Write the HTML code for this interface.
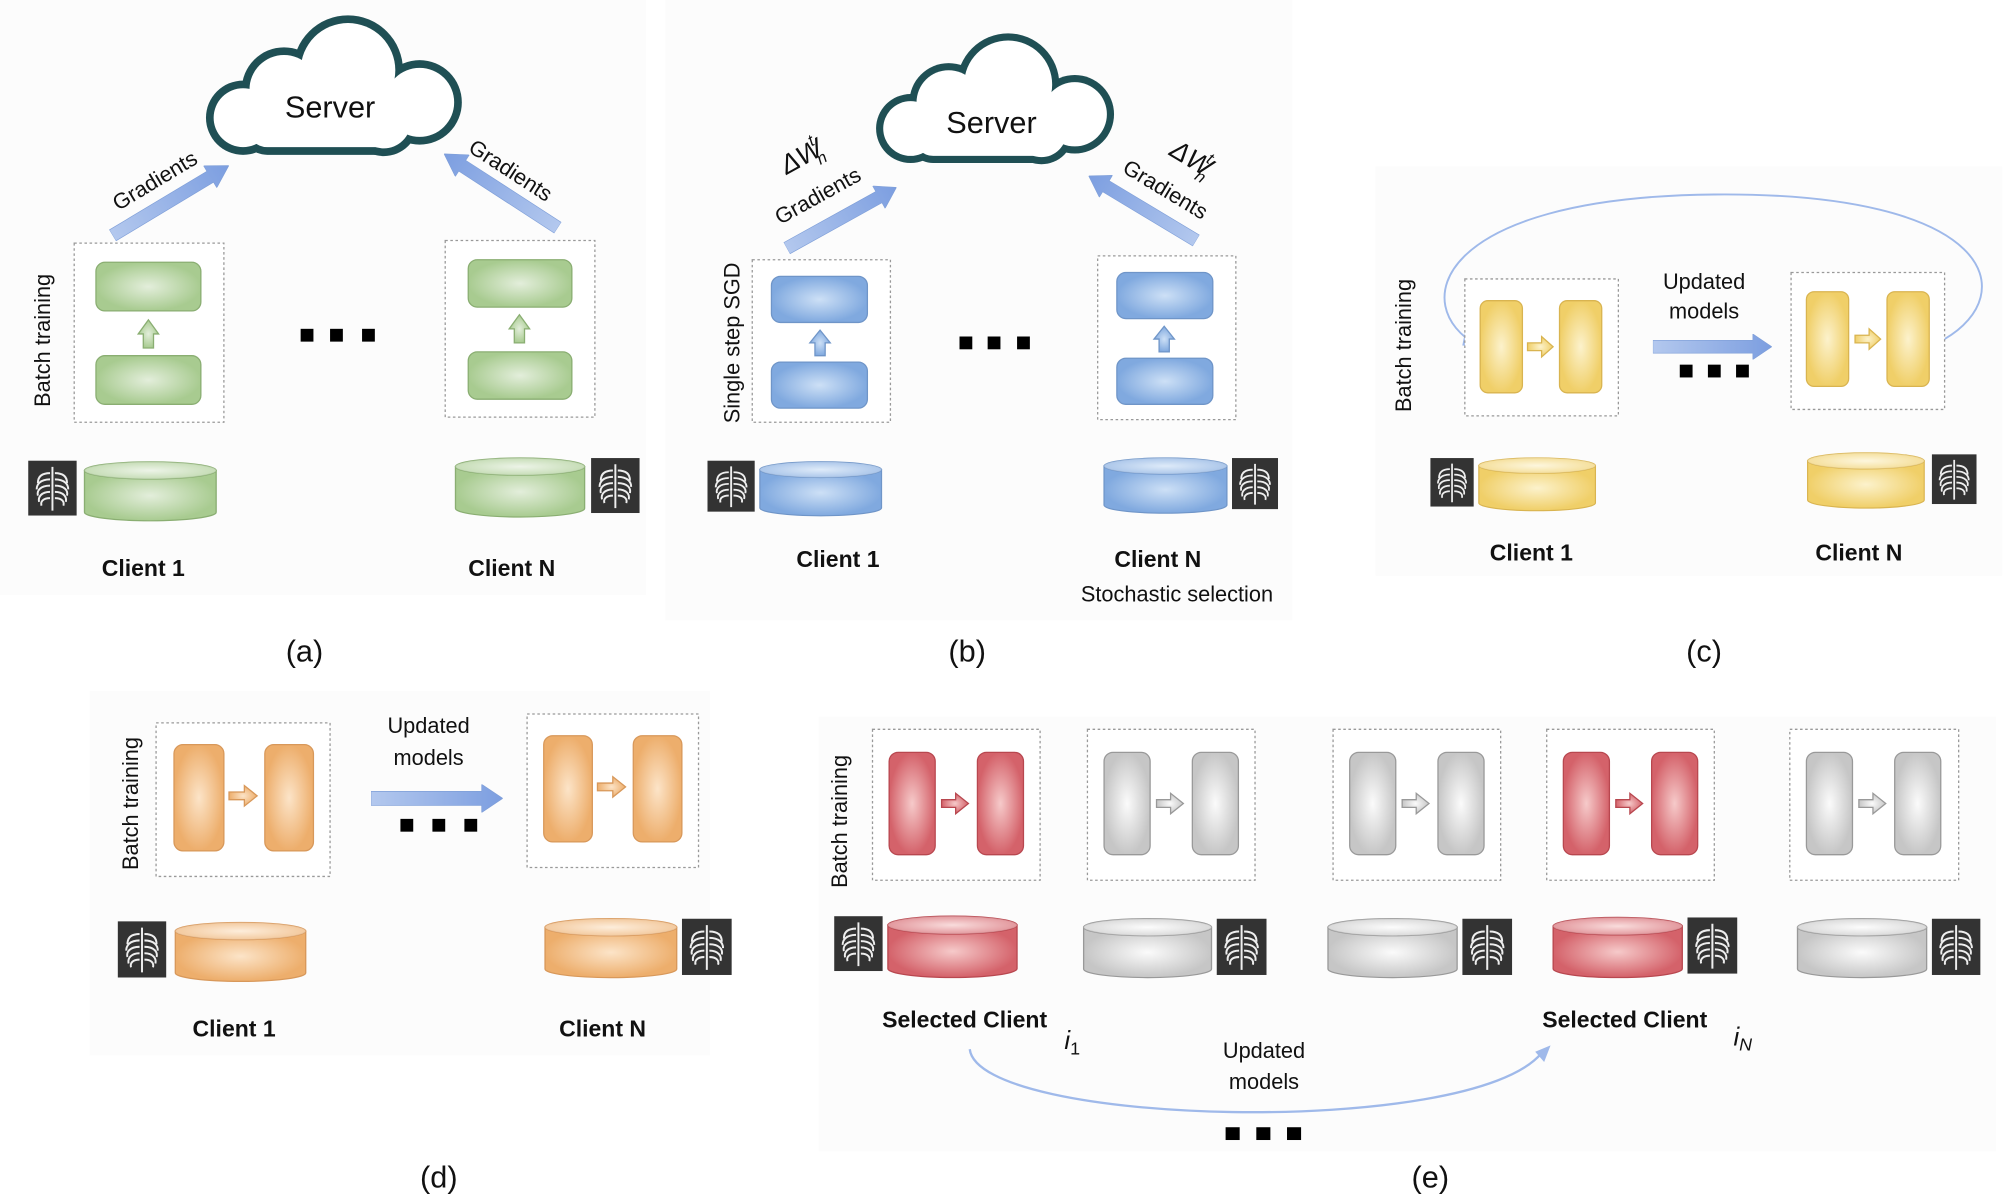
<!DOCTYPE html>
<html><head><meta charset="utf-8"><style>
html,body{margin:0;padding:0;background:#fff;}
svg{display:block;}
text{font-family:"Liberation Sans",sans-serif;fill:#111;}
.b{font-weight:bold;font-size:18px;}
.l{font-size:24px;}
.m{font-size:17px;}
.d{fill:#fff;stroke:#999;stroke-width:1;stroke-dasharray:2 2;}
</style></head><body>
<svg width="2006" height="1204" viewBox="0 0 1568 941" preserveAspectRatio="none" xmlns="http://www.w3.org/2000/svg">
<defs>
<radialGradient id="gG"><stop offset="0" stop-color="#e3eedb"/><stop offset="1" stop-color="#a8cb90"/></radialGradient>
<radialGradient id="gB"><stop offset="0" stop-color="#cde0f6"/><stop offset="1" stop-color="#80a9df"/></radialGradient>
<radialGradient id="gY"><stop offset="0" stop-color="#fcf2cc"/><stop offset="1" stop-color="#f0cf68"/></radialGradient>
<radialGradient id="gO"><stop offset="0" stop-color="#fce4c8"/><stop offset="1" stop-color="#edae6c"/></radialGradient>
<radialGradient id="gR"><stop offset="0" stop-color="#f6caca"/><stop offset="1" stop-color="#d4626a"/></radialGradient>
<radialGradient id="gW"><stop offset="0" stop-color="#fbfbfb"/><stop offset="1" stop-color="#c6c6c6"/></radialGradient>
<linearGradient id="ar" x1="0" x2="1" y1="0" y2="0"><stop offset="0" stop-color="#b3c8ee"/><stop offset="1" stop-color="#7c9ee0"/></linearGradient>
<symbol id="cyl" viewBox="0 0 100 50" preserveAspectRatio="none" overflow="visible">
<path d="M1,8 V42 A49,7 0 0 0 99,42 V8 Z"/>
<ellipse cx="50" cy="8" rx="49" ry="7"/>
<ellipse cx="50" cy="8" rx="49" ry="7" fill="#fff" fill-opacity="0.35" stroke="none"/>
</symbol>
<symbol id="xr" viewBox="0 0 40 44" preserveAspectRatio="none">
<rect width="40" height="44" fill="#333"/>
<g fill="none" stroke="#eee" stroke-width="1.6">
<line x1="20" y1="5" x2="20" y2="40"/>
<path d="M18,10 C10,10 8,14 8,18 M22,10 C30,10 32,14 32,18"/>
<path d="M18,15 C10,15 7,19 7,23 M22,15 C30,15 33,19 33,23"/>
<path d="M18,20 C10,20 7,24 8,28 M22,20 C30,20 33,24 32,28"/>
<path d="M18,25 C11,25 8,29 9,33 M22,25 C29,25 32,29 31,33"/>
<path d="M18,30 C12,30 10,33 11,36 M22,30 C28,30 30,33 29,36"/>
</g></symbol>
<symbol id="big" viewBox="0 0 100 20" preserveAspectRatio="none">
<polygon points="0,5 84,5 84,0 100,10 84,20 84,15 0,15" fill="url(#ar)" stroke="#7f9fd8" stroke-width="0.5"/>
</symbol>
<g id="cloud">
<g fill="#1f4f54">
<circle cx="190" cy="92" r="29"/><circle cx="222" cy="70" r="33"/><circle cx="272" cy="55" r="43"/><circle cx="328" cy="80" r="33"/><circle cx="300" cy="95" r="27"/><rect x="187" y="72" width="136" height="49" rx="22"/>
</g>
<g fill="#fff">
<circle cx="190" cy="92" r="23"/><circle cx="222" cy="70" r="27"/><circle cx="272" cy="55" r="37"/><circle cx="328" cy="80" r="27"/><circle cx="300" cy="95" r="21"/><rect x="193" y="78" width="124" height="37" rx="16"/>
</g></g>
</defs>
<rect x="0" y="0" width="505" height="465" fill="#fcfcfc"/>
<rect x="520" y="0" width="490" height="485" fill="#fcfcfc"/>
<rect x="1075" y="130" width="490" height="320" fill="#fcfcfc"/>
<rect x="70" y="540" width="485" height="285" fill="#fcfcfc"/>
<rect x="640" y="560" width="920" height="340" fill="#fcfcfc"/>

<!-- (a) -->
<use href="#cloud"/>
<text x="258" y="92" class="l" text-anchor="middle">Server</text>
<use href="#big" x="0" y="-10" width="106" height="20" transform="translate(88,184) rotate(-31)"/>
<use href="#big" x="0" y="-10" width="106" height="20" transform="translate(436,178) rotate(-147)"/>
<text class="m" font-size="19" text-anchor="middle" transform="translate(124,146) rotate(-31)">Gradients</text>
<text class="m" font-size="19" text-anchor="middle" transform="translate(396,138) rotate(33)">Gradients</text>
<rect class="d" x="58" y="190" width="117" height="140"/>
<rect x="75" y="205" width="82" height="38" rx="7" fill="url(#gG)" stroke="#8aae72"/>
<rect x="75" y="278" width="82" height="38" rx="7" fill="url(#gG)" stroke="#8aae72"/>
<polygon points="112,272 112,261 108,261 116,250 124,261 120,261 120,272" fill="url(#gG)" stroke="#8aae72"/>
<rect class="d" x="348" y="188" width="117" height="138"/>
<rect x="366" y="203" width="81" height="37" rx="7" fill="url(#gG)" stroke="#8aae72"/>
<rect x="366" y="275" width="81" height="37" rx="7" fill="url(#gG)" stroke="#8aae72"/>
<polygon points="402,268 402,257 398,257 406,246 414,257 410,257 410,268" fill="url(#gG)" stroke="#8aae72"/>
<text class="m" font-size="20" text-anchor="middle" transform="translate(39,266) rotate(-90)">Batch training</text>
<rect x="235" y="257" width="10" height="10" fill="#000"/><rect x="258" y="257" width="10" height="10" fill="#000"/><rect x="283" y="257" width="10" height="10" fill="#000"/>
<use href="#cyl" x="65" y="360" width="105" height="48" fill="url(#gG)" stroke="#8aae72"/>
<use href="#xr" x="22" y="360" width="38" height="43"/>
<use href="#cyl" x="355" y="357" width="103" height="48" fill="url(#gG)" stroke="#8aae72"/>
<use href="#xr" x="462" y="358" width="38" height="43"/>
<text x="112" y="450" class="b" text-anchor="middle">Client 1</text>
<text x="400" y="450" class="b" text-anchor="middle">Client N</text>
<text x="238" y="517" class="l" text-anchor="middle">(a)</text>

<!-- (b) -->
<use href="#cloud" transform="translate(775,80) scale(0.93) translate(-258,-70)"/>
<text x="775" y="104" class="l" text-anchor="middle">Server</text>
<use href="#big" x="0" y="-10" width="98" height="20" transform="translate(615,194) rotate(-29)"/>
<use href="#big" x="0" y="-10" width="98" height="20" transform="translate(935,188) rotate(-149)"/>
<text class="m" font-size="19" text-anchor="middle" transform="translate(642,158) rotate(-29)">Gradients</text>
<g transform="translate(627,130) rotate(-29)"><text font-family="Liberation Serif" font-size="21" font-style="italic" x="-14" y="0">ΔW</text><text font-family="Liberation Serif" font-size="13" font-style="italic" x="14" y="-10">t</text><text font-family="Liberation Serif" font-size="13" font-style="italic" x="13" y="6">n</text></g>
<text class="m" font-size="19" text-anchor="middle" transform="translate(908,153) rotate(31)">Gradients</text>
<g transform="translate(925,128) rotate(31)"><text font-family="Liberation Serif" font-size="21" font-style="italic" x="-14" y="0">ΔW</text><text font-family="Liberation Serif" font-size="13" font-style="italic" x="14" y="-10">t</text><text font-family="Liberation Serif" font-size="13" font-style="italic" x="13" y="6">n</text></g>
<rect class="d" x="588" y="203" width="108" height="127"/>
<rect x="603" y="216" width="75" height="36" rx="7" fill="url(#gB)" stroke="#6f95c8"/>
<rect x="603" y="283" width="75" height="36" rx="7" fill="url(#gB)" stroke="#6f95c8"/>
<polygon points="637,278 637,268 633,268 641,258 649,268 645,268 645,278" fill="url(#gB)" stroke="#6f95c8"/>
<rect class="d" x="858" y="200" width="108" height="128"/>
<rect x="873" y="213" width="75" height="36" rx="7" fill="url(#gB)" stroke="#6f95c8"/>
<rect x="873" y="280" width="75" height="36" rx="7" fill="url(#gB)" stroke="#6f95c8"/>
<polygon points="906,275 906,265 902,265 910,255 918,265 914,265 914,275" fill="url(#gB)" stroke="#6f95c8"/>
<text class="m" font-size="18" text-anchor="middle" transform="translate(578,268) rotate(-90)">Single step SGD</text>
<rect x="750" y="263" width="10" height="10" fill="#000"/><rect x="772" y="263" width="10" height="10" fill="#000"/><rect x="795" y="263" width="10" height="10" fill="#000"/>
<use href="#cyl" x="593" y="360" width="97" height="44" fill="url(#gB)" stroke="#6f95c8"/>
<use href="#xr" x="553" y="360" width="37" height="40"/>
<use href="#cyl" x="862" y="357" width="98" height="45" fill="url(#gB)" stroke="#6f95c8"/>
<use href="#xr" x="963" y="358" width="36" height="40"/>
<text x="655" y="443" class="b" text-anchor="middle">Client 1</text>
<text x="905" y="443" class="b" text-anchor="middle">Client N</text>
<text x="920" y="470" class="m" text-anchor="middle">Stochastic selection</text>
<text x="756" y="517" class="l" text-anchor="middle">(b)</text>

<!-- (c) -->
<path d="M1520,265 C1580,230 1560,150 1340,152 C1120,154 1100,240 1155,270" fill="none" stroke="#9fb9ea" stroke-width="1.5"/>
<polygon points="1157,271 1145,260 1143,270" fill="#9fb9ea"/>
<rect class="d" x="1145" y="218" width="120" height="107"/>
<rect x="1157" y="235" width="33" height="72" rx="6" fill="url(#gY)" stroke="#d9b450"/>
<rect x="1219" y="235" width="33" height="72" rx="6" fill="url(#gY)" stroke="#d9b450"/>
<polygon points="1194,268 1205,268 1205,263 1214,271 1205,279 1205,274 1194,274" fill="url(#gY)" stroke="#d9b450"/>
<rect class="d" x="1400" y="213" width="120" height="107"/>
<rect x="1412" y="228" width="33" height="74" rx="6" fill="url(#gY)" stroke="#d9b450"/>
<rect x="1475" y="228" width="33" height="74" rx="6" fill="url(#gY)" stroke="#d9b450"/>
<polygon points="1450,262 1461,262 1461,257 1470,265 1461,273 1461,268 1450,268" fill="url(#gY)" stroke="#d9b450"/>
<text x="1332" y="226" class="m" text-anchor="middle">Updated</text>
<text x="1332" y="249" class="m" text-anchor="middle">models</text>
<use href="#big" x="1292" y="261" width="93" height="20"/>
<rect x="1313" y="285" width="10" height="10" fill="#000"/><rect x="1335" y="285" width="10" height="10" fill="#000"/><rect x="1357" y="285" width="10" height="10" fill="#000"/>
<text class="m" font-size="18" text-anchor="middle" transform="translate(1103,270) rotate(-90)">Batch training</text>
<use href="#cyl" x="1155" y="357" width="93" height="43" fill="url(#gY)" stroke="#d9b450"/>
<use href="#xr" x="1118" y="358" width="34" height="38"/>
<use href="#cyl" x="1412" y="353" width="93" height="45" fill="url(#gY)" stroke="#d9b450"/>
<use href="#xr" x="1510" y="355" width="35" height="39"/>
<text x="1197" y="438" class="b" text-anchor="middle">Client 1</text>
<text x="1453" y="438" class="b" text-anchor="middle">Client N</text>
<text x="1332" y="517" class="l" text-anchor="middle">(c)</text>

<!-- (d) -->
<rect class="d" x="122" y="565" width="136" height="120"/>
<rect x="136" y="582" width="39" height="83" rx="7" fill="url(#gO)" stroke="#d8985a"/>
<rect x="207" y="582" width="38" height="83" rx="7" fill="url(#gO)" stroke="#d8985a"/>
<polygon points="179,619 191,619 191,614 201,622 191,630 191,625 179,625" fill="url(#gO)" stroke="#d8985a"/>
<rect class="d" x="412" y="558" width="134" height="120"/>
<rect x="425" y="575" width="38" height="83" rx="7" fill="url(#gO)" stroke="#d8985a"/>
<rect x="495" y="575" width="38" height="83" rx="7" fill="url(#gO)" stroke="#d8985a"/>
<polygon points="467,612 479,612 479,607 489,615 479,623 479,618 467,618" fill="url(#gO)" stroke="#d8985a"/>
<text x="335" y="573" class="m" font-size="19" text-anchor="middle">Updated</text>
<text x="335" y="598" class="m" font-size="19" text-anchor="middle">models</text>
<use href="#big" x="290" y="613" width="103" height="22"/>
<rect x="313" y="640" width="10" height="10" fill="#000"/><rect x="338" y="640" width="10" height="10" fill="#000"/><rect x="363" y="640" width="10" height="10" fill="#000"/>
<text class="m" font-size="20" text-anchor="middle" transform="translate(108,628) rotate(-90)">Batch training</text>
<use href="#cyl" x="136" y="720" width="104" height="48" fill="url(#gO)" stroke="#d8985a"/>
<use href="#xr" x="92" y="720" width="38" height="44"/>
<use href="#cyl" x="425" y="717" width="105" height="48" fill="url(#gO)" stroke="#d8985a"/>
<use href="#xr" x="533" y="718" width="39" height="44"/>
<text x="183" y="810" class="b" text-anchor="middle">Client 1</text>
<text x="471" y="810" class="b" text-anchor="middle">Client N</text>
<text x="343" y="928" class="l" text-anchor="middle">(d)</text>

<!-- (e) -->
<g>
<rect class="d" x="682" y="570" width="131" height="118"/>
<rect x="695" y="588" width="36" height="80" rx="7" fill="url(#gR)" stroke="#b8474f"/>
<rect x="764" y="588" width="36" height="80" rx="7" fill="url(#gR)" stroke="#b8474f"/>
<polygon points="736,625 747,625 747,620 757,628 747,636 747,631 736,631" fill="url(#gR)" stroke="#b8474f"/>
<rect class="d" x="850" y="570" width="131" height="118"/>
<rect x="863" y="588" width="36" height="80" rx="7" fill="url(#gW)" stroke="#999"/>
<rect x="932" y="588" width="36" height="80" rx="7" fill="url(#gW)" stroke="#999"/>
<polygon points="904,625 915,625 915,620 925,628 915,636 915,631 904,631" fill="url(#gW)" stroke="#999"/>
<rect class="d" x="1042" y="570" width="131" height="118"/>
<rect x="1055" y="588" width="36" height="80" rx="7" fill="url(#gW)" stroke="#999"/>
<rect x="1124" y="588" width="36" height="80" rx="7" fill="url(#gW)" stroke="#999"/>
<polygon points="1096,625 1107,625 1107,620 1117,628 1107,636 1107,631 1096,631" fill="url(#gW)" stroke="#999"/>
<rect class="d" x="1209" y="570" width="131" height="118"/>
<rect x="1222" y="588" width="36" height="80" rx="7" fill="url(#gR)" stroke="#b8474f"/>
<rect x="1291" y="588" width="36" height="80" rx="7" fill="url(#gR)" stroke="#b8474f"/>
<polygon points="1263,625 1274,625 1274,620 1284,628 1274,636 1274,631 1263,631" fill="url(#gR)" stroke="#b8474f"/>
<rect class="d" x="1399" y="570" width="132" height="118"/>
<rect x="1412" y="588" width="36" height="80" rx="7" fill="url(#gW)" stroke="#999"/>
<rect x="1481" y="588" width="36" height="80" rx="7" fill="url(#gW)" stroke="#999"/>
<polygon points="1453,625 1464,625 1464,620 1474,628 1464,636 1464,631 1453,631" fill="url(#gW)" stroke="#999"/>
</g>
<text class="m" font-size="20" text-anchor="middle" transform="translate(662,642) rotate(-90)">Batch training</text>
<use href="#cyl" x="693" y="715" width="103" height="50" fill="url(#gR)" stroke="#b8474f"/>
<use href="#xr" x="652" y="716" width="38" height="43"/>
<use href="#cyl" x="846" y="717" width="102" height="48" fill="url(#gW)" stroke="#999"/>
<use href="#xr" x="951" y="718" width="39" height="44"/>
<use href="#cyl" x="1037" y="717" width="103" height="48" fill="url(#gW)" stroke="#999"/>
<use href="#xr" x="1143" y="718" width="39" height="44"/>
<use href="#cyl" x="1213" y="716" width="103" height="49" fill="url(#gR)" stroke="#b8474f"/>
<use href="#xr" x="1319" y="717" width="39" height="44"/>
<use href="#cyl" x="1404" y="717" width="103" height="48" fill="url(#gW)" stroke="#999"/>
<use href="#xr" x="1510" y="718" width="38" height="44"/>
<text x="754" y="803" class="b" text-anchor="middle">Selected Client</text>
<text x="832" y="820" font-family="Liberation Serif" font-style="italic" font-size="20">i<tspan font-size="14" font-style="normal" dy="4">1</tspan></text>
<text x="1270" y="803" class="b" text-anchor="middle">Selected Client</text>
<text x="1355" y="817" font-family="Liberation Serif" font-style="italic" font-size="20">i<tspan font-size="14" dy="4">N</tspan></text>
<path d="M758,820 C765,880 1150,890 1205,823" fill="none" stroke="#9fb9ea" stroke-width="1.8"/>
<polygon points="1212,817 1200,822 1207,830" fill="#9fb9ea"/>
<text x="988" y="827" class="m" font-size="19" text-anchor="middle">Updated</text>
<text x="988" y="851" class="m" font-size="19" text-anchor="middle">models</text>
<rect x="958" y="881" width="11" height="10" fill="#000"/><rect x="982" y="881" width="11" height="10" fill="#000"/><rect x="1006" y="881" width="11" height="10" fill="#000"/>
<text x="1118" y="928" class="l" text-anchor="middle">(e)</text>
</svg>
</body></html>
